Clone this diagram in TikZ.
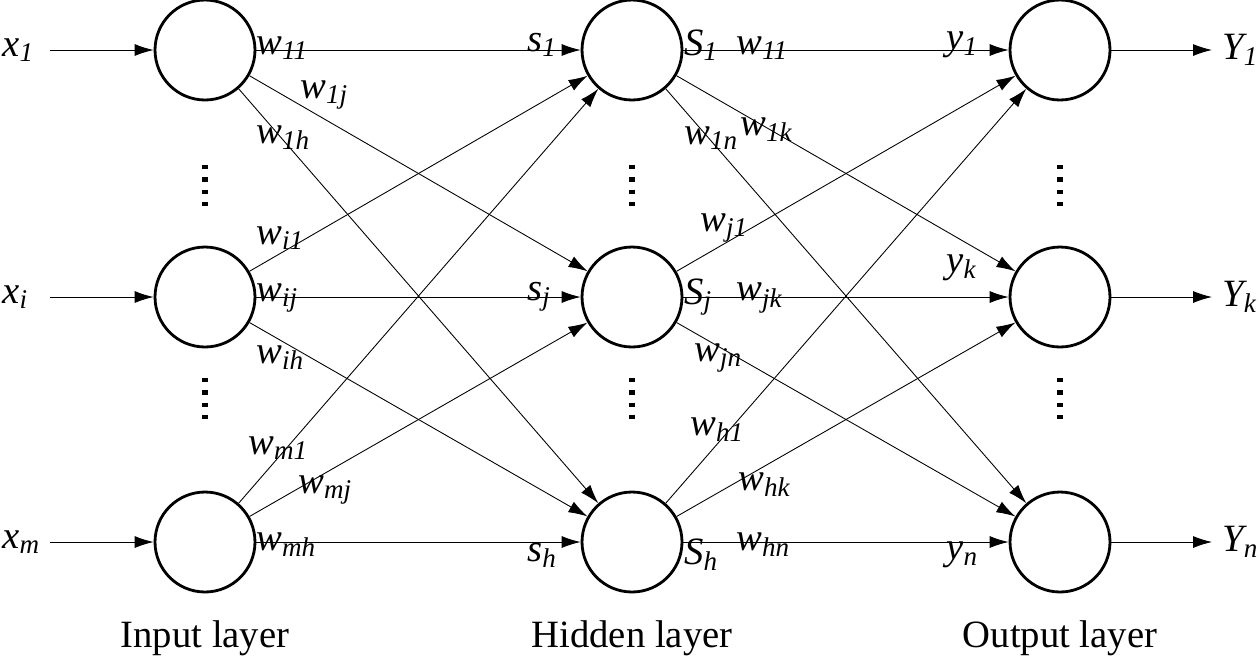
\documentclass[tikz,border=0pt]{standalone}
\usepackage{fontspec}
\setmainfont{Liberation Serif}
\usetikzlibrary{arrows.meta}
\begin{document}
\begin{tikzpicture}[x=0.02cm,y=-0.02cm,
 neuron/.style={circle,draw,line width=1.6pt,minimum size=2cm,inner sep=0},
 conn/.style={line width=0.5pt,-{Latex[length=3.8mm,width=2.4mm]}},
 lab/.style={font=\fontsize{22}{26}\selectfont\itshape,inner sep=0},
 laycap/.style={font=\fontsize{22}{26}\selectfont,inner sep=0},
 dots/.style={line width=3.5pt,dash pattern=on 2.5pt off 4.5pt}]
\useasboundingbox (0,0) rectangle (1260,664);
\foreach \n/\y in {1/50,i/297,m/542}{\node[neuron] (I\n) at (205,\y) {};}
\foreach \n/\y in {1/50,j/297,h/542}{\node[neuron] (H\n) at (632,\y) {};}
\foreach \n/\y in {1/50,k/297,n/542}{\node[neuron] (O\n) at (1060,\y) {};}
\foreach \n/\y/\t in {1/50/1,i/297/i,m/542/m}{
 \node[lab,anchor=west] (x\n) at (2,\y) {x\textsubscript{\t}};
 \coordinate (xs\n) at (50,\y);
 \draw[conn] (xs\n) -- (I\n);}
\foreach \n/\y/\t in {1/50/1,k/297/k,n/542/n}{
 \coordinate (ye\n) at (1212,\y);
 \node[lab,anchor=west] (Y\n) at (1222,\y) {Y\textsubscript{\t}};
 \draw[conn] (O\n) -- (ye\n);}
\foreach \a in {1,i,m}{\foreach \b in {1,j,h}{\draw[conn] (I\a) -- (H\b);}}
\foreach \a in {1,j,h}{\foreach \b in {1,k,n}{\draw[conn] (H\a) -- (O\b);}}
\foreach \x in {205,632,1060}{
 \coordinate (da\x) at (\x,165); \coordinate (db\x) at (\x,212);
 \coordinate (dc\x) at (\x,378); \coordinate (dd\x) at (\x,425);
 \draw[dots] (da\x) -- (db\x); \draw[dots] (dc\x) -- (dd\x);}
\foreach \p/\t in {{256,48}/w\textsubscript{11},{300,95}/w\textsubscript{1j},{256,138}/w\textsubscript{1h},
 {527,45}/s\textsubscript{1},{684,45}/S\textsubscript{1},{736,48}/w\textsubscript{11},{946,45}/y\textsubscript{1},
 {740,130}/w\textsubscript{1k},{684,138}/w\textsubscript{1n},
 {256,238}/w\textsubscript{i1},{256,298}/w\textsubscript{ij},{256,358}/w\textsubscript{ih},
 {527,297}/s\textsubscript{j},{684,297}/S\textsubscript{j},{700,228}/w\textsubscript{j1},{736,298}/w\textsubscript{jk},
 {694,358}/w\textsubscript{jn},{946,268}/y\textsubscript{k},
 {248,448}/w\textsubscript{m1},{298,490}/w\textsubscript{mj},{256,545}/w\textsubscript{mh},
 {527,555}/s\textsubscript{h},{684,555}/S\textsubscript{h},{690,430}/w\textsubscript{h1},{738,485}/w\textsubscript{hk},
 {736,545}/w\textsubscript{hn},{946,555}/y\textsubscript{n}}{
 \node[lab,anchor=west] at (\p) {\t};}
\node[laycap] (c1) at (205,638) {Input layer};
\node[laycap] (c2) at (632,638) {Hidden layer};
\node[laycap] (c3) at (1060,638) {Output layer};
\end{tikzpicture}
\end{document}
